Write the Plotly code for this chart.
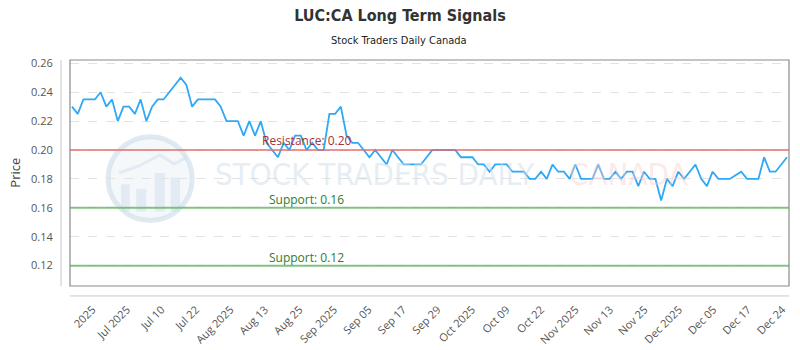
import numpy as np
import plotly.graph_objects as go

prices = [
    0.23, 0.225, 0.235, 0.235, 0.235, 0.24, 0.23, 0.235, 0.22, 0.23,
    0.23, 0.225, 0.235, 0.22, 0.23, 0.235, 0.235, 0.24, 0.245, 0.25,
    0.245, 0.23, 0.235, 0.235, 0.235, 0.235, 0.23, 0.22, 0.22, 0.22,
    0.21, 0.22, 0.21, 0.22, 0.205, 0.20, 0.195, 0.205, 0.20, 0.21,
    0.21, 0.20, 0.205, 0.20, 0.20, 0.225, 0.225, 0.23, 0.21, 0.205,
    0.205, 0.20, 0.195, 0.20, 0.195, 0.19, 0.20, 0.195, 0.19, 0.19,
    0.19, 0.19, 0.195, 0.20, 0.20, 0.20, 0.20, 0.20, 0.195, 0.195,
    0.195, 0.19, 0.19, 0.185, 0.19, 0.19, 0.19, 0.185, 0.185, 0.185,
    0.18, 0.18, 0.185, 0.18, 0.19, 0.185, 0.185, 0.18, 0.19, 0.18,
    0.18, 0.18, 0.19, 0.18, 0.18, 0.185, 0.18, 0.185, 0.185, 0.175,
    0.185, 0.18, 0.18, 0.165, 0.18, 0.175, 0.185, 0.18, 0.185, 0.19,
    0.18, 0.175, 0.185, 0.18, 0.18, 0.18, 0.1825, 0.185, 0.18, 0.18,
    0.18, 0.195, 0.185, 0.185, 0.19, 0.195,
]
tick_labels = [
    "2025", "Jul 2025", "Jul 10", "Jul 22", "Aug 2025", "Aug 13", "Aug 25",
    "Sep 2025", "Sep 05", "Sep 17", "Sep 29", "Oct 2025", "Oct 09", "Oct 22",
    "Nov 2025", "Nov 13", "Nov 25", "Dec 2025", "Dec 05", "Dec 17", "Dec 24",
]
resistance = [0.20]
supports = [0.16, 0.12]

COND = "DejaVu Sans Condensed, Roboto, sans-serif"

x = list(range(len(prices)))
tickvals = list(np.linspace(3.6, 124.2, len(tick_labels)))

fig = go.Figure()
fig.add_trace(go.Scatter(
    x=x, y=prices, mode="lines",
    line=dict(color="#2ea8f7", width=1.8),
    hoverinfo="y", showlegend=False,
))

# watermark (paper coordinates)
wm = "rgba(205,220,232,0.45)"
fig.add_shape(type="circle", xref="paper", yref="paper",
              x0=0.053, x1=0.170, y0=0.29, y1=0.66,
              line=dict(color="rgba(205,220,232,0.6)", width=5),
              fillcolor="rgba(225,236,244,0.35)", layer="below")
for bx0, bx1, top in [(0.071, 0.083, 0.45), (0.092, 0.106, 0.43),
                      (0.118, 0.132, 0.50), (0.140, 0.153, 0.48)]:
    fig.add_shape(type="rect", xref="paper", yref="paper",
                  x0=bx0, x1=bx1, y0=0.33, y1=top,
                  fillcolor=wm, line=dict(width=0), layer="below")
fig.add_shape(type="path", xref="paper", yref="paper",
              path="M 0.068 0.50 L 0.095 0.53 L 0.125 0.58 L 0.145 0.54 L 0.162 0.57",
              line=dict(color=wm, width=3), layer="below")
fig.add_annotation(xref="paper", yref="paper", x=0.424, y=0.497,
                   xanchor="center", yanchor="middle",
                   text="STOCK TRADERS DAILY", showarrow=False,
                   font=dict(family=COND, size=31,
                             color="rgba(205,220,232,0.5)"))
fig.add_annotation(xref="paper", yref="paper", x=0.777, y=0.497,
                   xanchor="center", yanchor="middle",
                   text="CANADA", showarrow=False,
                   font=dict(family=COND, size=31,
                             color="rgba(250,205,205,0.45)"))

# resistance / support lines
for r in resistance:
    fig.add_hline(y=r, line=dict(color="rgba(230,110,110,0.75)", width=2))
    fig.add_annotation(x=41, y=r, text=f"Resistance: {r:.2f}", showarrow=False,
                       xanchor="center", yanchor="bottom", yshift=-1,
                       font=dict(family="Open Sans", size=12, color="#a83232"))
for s in supports:
    fig.add_hline(y=s, line=dict(color="rgba(100,180,100,0.8)", width=2))
    fig.add_annotation(x=41, y=s, text=f"Support: {s:.2f}", showarrow=False,
                       xanchor="center", yanchor="bottom", yshift=-2,
                       font=dict(family="Open Sans", size=12, color="#2e7d2e"))

# plot box and offset axis lines
fig.add_shape(type="rect", xref="paper", yref="paper", x0=0, x1=1, y0=0, y1=1,
              line=dict(color="#8a8a8a", width=1.2), layer="above")
fig.add_shape(type="line", xref="paper", yref="paper", x0=0, x1=1,
              y0=-0.044, y1=-0.044, line=dict(color="#c8c8c8", width=1))
fig.add_shape(type="line", xref="paper", yref="paper", x0=-0.0125, x1=-0.0125,
              y0=0, y1=1, line=dict(color="#c8c8c8", width=1))

fig.add_annotation(xref="paper", yref="paper", x=-0.077, y=0.5, text="Price",
                   xanchor="center", yanchor="middle",
                   textangle=-90, showarrow=False,
                   font=dict(family="Open Sans", size=13, color="#444"))
fig.add_annotation(xref="paper", yref="paper", x=0.458, y=1.088,
                   xanchor="center", yanchor="middle",
                   text="Stock Traders Daily Canada", showarrow=False,
                   font=dict(family=COND, size=11, color="#222"))

fig.update_layout(
    width=800, height=350,
    margin=dict(l=70, r=11, t=60, b=64, autoexpand=False),
    paper_bgcolor="white", plot_bgcolor="white",
    title=dict(text="<b>LUC:CA Long Term Signals</b>", x=0.5, xanchor="center",
               y=1 - 15 / 350, yanchor="middle", yref="container",
               font=dict(family=COND, size=16, color="#333")),
    xaxis=dict(range=[-0.35, 125.35], tickvals=tickvals, ticktext=tick_labels,
               tickangle=-45, showgrid=False, zeroline=False, showline=False,
               automargin=False,
               ticks="outside", ticklen=12, tickcolor="rgba(0,0,0,0)",
               tickfont=dict(family="Open Sans", size=11, color="#555")),
    yaxis=dict(range=[0.1059, 0.2623], tickvals=[0.12, 0.14, 0.16, 0.18, 0.20, 0.22, 0.24, 0.26],
               tickformat=".2f", showgrid=True, gridcolor="#e2e2e2", griddash="dash",
               zeroline=False, showline=False, automargin=False,
               ticks="outside", ticklen=14, tickcolor="rgba(0,0,0,0)",
               tickfont=dict(family="Open Sans", size=11, color="#555")),
)

fig.write_html("out.html")
